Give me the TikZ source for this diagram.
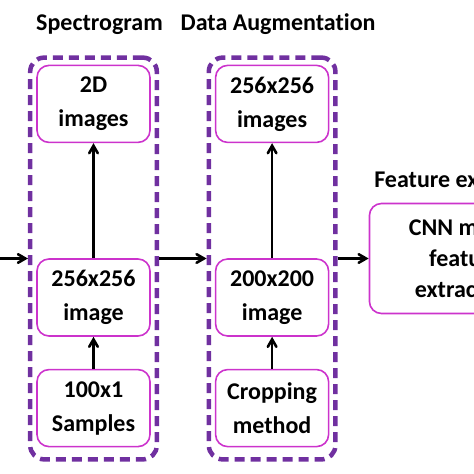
\documentclass[tikz,border=0pt]{standalone}
\usepackage{fontspec}
\setmainfont{Carlito}[Ligatures=NoCommon]
\usetikzlibrary{arrows,shapes,positioning,fit}
\definecolor{grpviolet}{RGB}{112,48,160}
\definecolor{boxpink}{RGB}{204,51,204}

\begin{document}
\begin{tikzpicture}[
            process/.style={draw=boxpink, line width=1.6pt, rounded corners=12pt, minimum width=113pt, minimum height=77pt, inner sep=0pt},
            group/.style={draw=grpviolet, line width=4.5pt, dash pattern=on 10pt off 6pt, rounded corners=14pt, inner xsep=6pt, inner ysep=9.5pt, yshift=-2.5pt},
            title/.style={inner sep=0pt},
            every node/.style={align=center, font=\bfseries\fontsize{24}{34}\selectfont},
            to/.style={->,>=angle 60,line width=2.6pt},
            node distance = 2cm
  ]

  \useasboundingbox (0pt,0pt) rectangle (474pt,474pt);
  \clip (0pt,0pt) rectangle (474pt,474pt);

  % spectrogram column
  \node[process] (img256) at (93.5pt,176.5pt) {256x256\\image};
  \node[process] (img2d) [above=115pt of img256] {2D\\images};
  \node[process] (samples) [below=32pt of img256] {100x1\\Samples};

  % augmentation column
  \node[process] (img200) [right=64pt of img256] {200x200\\image};
  \node[process] (imgs256) [above=115pt of img200] {256x256\\images};
  \node[process] (crop) [below=32pt of img200] {Cropping\\method};

  \node[group, fit=(img2d)(samples)] (spec) {};
  \node[group, fit=(imgs256)(crop)] (aug) {};

  \node[title] (spectitle) [above=21pt of spec, xshift=6pt] {Spectrogram};
  \node[title] (augtitle) [above=21pt of aug, xshift=6pt] {Data Augmentation};

  \node[process, minimum height=68pt, minimum width=100pt] (prev) [left=28pt of spec] {};
  \node[process, minimum width=192pt, minimum height=110pt, font=\bfseries\fontsize{24}{31}\selectfont] (feat) [right=31pt of aug] {CNN model\\feature\\extraction};
  \node[title] (feattitle) [above=15pt of feat] {Feature extraction};

  \draw[to] (samples) -- (img256);
  \draw[to] (img256) -- (img2d);
  \draw[to] (crop) -- (img200);
  \draw[to] (img200) -- (imgs256);

  \draw[to] (prev) -- (spec);
  \draw[to] (spec) -- (aug);
  \draw[to] (aug) -- (feat);

\end{tikzpicture}
\end{document}
